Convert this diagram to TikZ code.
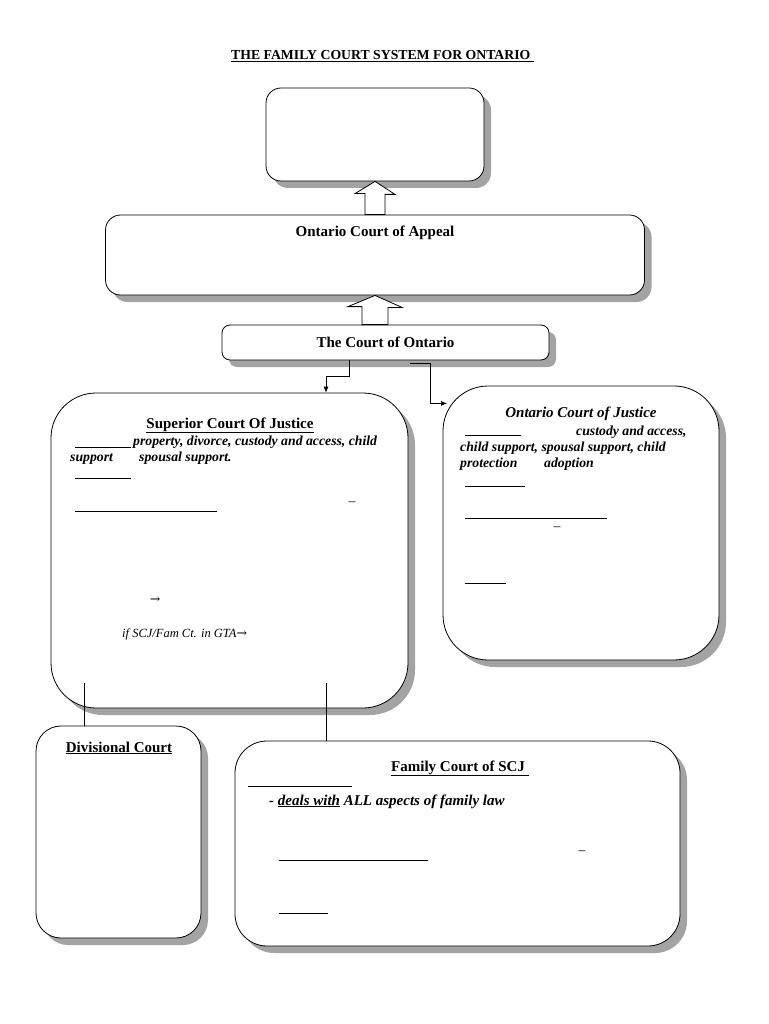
\documentclass[tikz,border=0pt]{standalone}
\usepackage{fontspec}
\setmainfont{Liberation Serif}
\newfontfamily\arrowfont{DejaVu Serif}
\usepackage{tikz}
\usetikzlibrary{calc,shadows,arrows.meta}

\begin{document}
\begin{tikzpicture}[x=1pt,y=-1pt,
    court/.style={draw, line width=0.8, fill=white, rounded corners=#1,
      drop shadow={shadow xshift=7pt, shadow yshift=-7pt, fill=black!45, opacity=0.8}},
    court/.default=15,
    head/.style={font=\fontsize{15}{18}\selectfont\bfseries},
    headit/.style={font=\fontsize{15}{18}\selectfont\bfseries\itshape},
    body/.style={font=\fontsize{13.75}{16}\selectfont\bfseries\itshape, anchor=base west, inner sep=0},
    small/.style={font=\fontsize{13.75}{16}\selectfont},
    blank/.style={line width=0.7}]
            \useasboundingbox (0,0) rectangle (768,1024);
            % Titulo
            \node[small, font=\fontsize{13.75}{16}\selectfont\bfseries, anchor=base west, inner sep=0] (title) at (231,60) {\underline{THE FAMILY COURT SYSTEM FOR ONTARIO\ }};
            % Caixas
            \node[court, minimum width=218, minimum height=93] (top) at (375,134.5) {};
            \node[court, minimum width=539, minimum height=80] (appeal) at (375,255) {};
            \node[court=8, minimum width=327, minimum height=35, head] (ontario) at (385.5,342.5) {The Court of Ontario};
            \node[court=45, minimum width=357, minimum height=315] (scj) at (229.5,550.5) {};
            \node[court=45, minimum width=276, minimum height=274] (ocj) at (581,523) {};
            \node[court=25, minimum width=165, minimum height=212] (div) at (118.5,832) {};
            \node[court=32, minimum width=445, minimum height=205] (fam) at (457.5,843.5) {};
            % Setas largas
            \draw[line width=0.8, fill=white] (top.south) -- ++(20,13) -- ++(-10,0) -- ($(appeal.north)+(10,0)$) -- ++(-20,0) -- ++(0,-21) -- ++(-10,0) -- cycle;
            \draw[line width=0.8, fill=white] (appeal.south) -- ++(27,12) -- ++(-14,0) -- ($(appeal.south |- ontario.north)+(13,0)$) -- ++(-26,0) -- ++(0,-18) -- ++(-14,0) -- cycle;
            % Ligacoes
            \draw[line width=0.6, -{Latex[length=6,width=5]}] ($(ontario.south)+(-36.5,0)$) -- ++(0,16) -- ++(-23,0) -- ($(scj.north)+(96.5,0)$);
            \draw[line width=0.6, -{Latex[length=6,width=5]}] ($(ontario.south)+(24.5,3)$) -- ++(20,0) -- ++(0,40) -- ++(17,0);
            \draw[line width=0.6] ($(div.north)+(-34.5,0)$) -- ++(0,-43);
            \draw[line width=0.6] ($(fam.north)+(-131.5,0)$) -- ++(0,-58);
            % Ontario Court of Appeal
            \node[head] (appealtxt) at (375,233) {Ontario Court of Appeal};
            % Superior Court Of Justice
            \node[head, anchor=base] (scjtxt) at (230,428) {\underline{Superior Court Of Justice}};
            \node[body] (scj1) at (133,445) {property, divorce, custody and access, child};
            \node[body] (scj2) at (70,461) {support};
            \node[body] (scj3) at (139,461) {spousal support.};
            \draw[blank] (75,447) -- (131,447);
            \draw[blank] (75,478) -- (131,478);
            \draw[blank] (75,511) -- (217,511);
            \node[small] (scjdash) at (352,504) {–};
            \node[font=\fontsize{12.5}{15}\arrowfont] (scjarrow) at (155,600) {→};
            \node[font=\fontsize{12.5}{15}\selectfont\itshape, anchor=base west, inner sep=0] (gta) at (122,637) {if SCJ/Fam Ct. in GTA{\arrowfont →}};
            % Ontario Court of Justice
            \node[headit, anchor=base] (ocjtxt) at (581,417) {Ontario Court of Justice};
            \draw[blank] (465,435) -- (521,435);
            \node[body] (ocj1) at (576,435) {custody and access,};
            \node[body] (ocj2) at (460,451) {child support, spousal support, child};
            \node[body] (ocj3) at (460,467) {protection};
            \node[body] (ocj4) at (544,467) {adoption};
            \draw[blank] (465,486) -- (525,486);
            \draw[blank] (465,518) -- (607,518);
            \node[small] (ocjdash) at (557,529) {–};
            \draw[blank] (465,583) -- (506,583);
            % Divisional Court
            \node[head, anchor=base] (divtxt) at (119,752) {\underline{Divisional Court}};
            % Family Court of SCJ
            \node[head, anchor=base west, inner sep=0] (famtxt) at (391,771) {\underline{Family Court of SCJ\ }};
            \draw[blank] (248,786) -- (352,786);
            \node[headit, anchor=base west, inner sep=0] (fam1) at (269,805) {- \underline{deals with} ALL aspects of family law};
            \draw[blank] (279,860) -- (428,860);
            \node[small] (famdash) at (582,853) {–};
            \draw[blank] (279,913) -- (328,913);
        \end{tikzpicture}
\end{document}
